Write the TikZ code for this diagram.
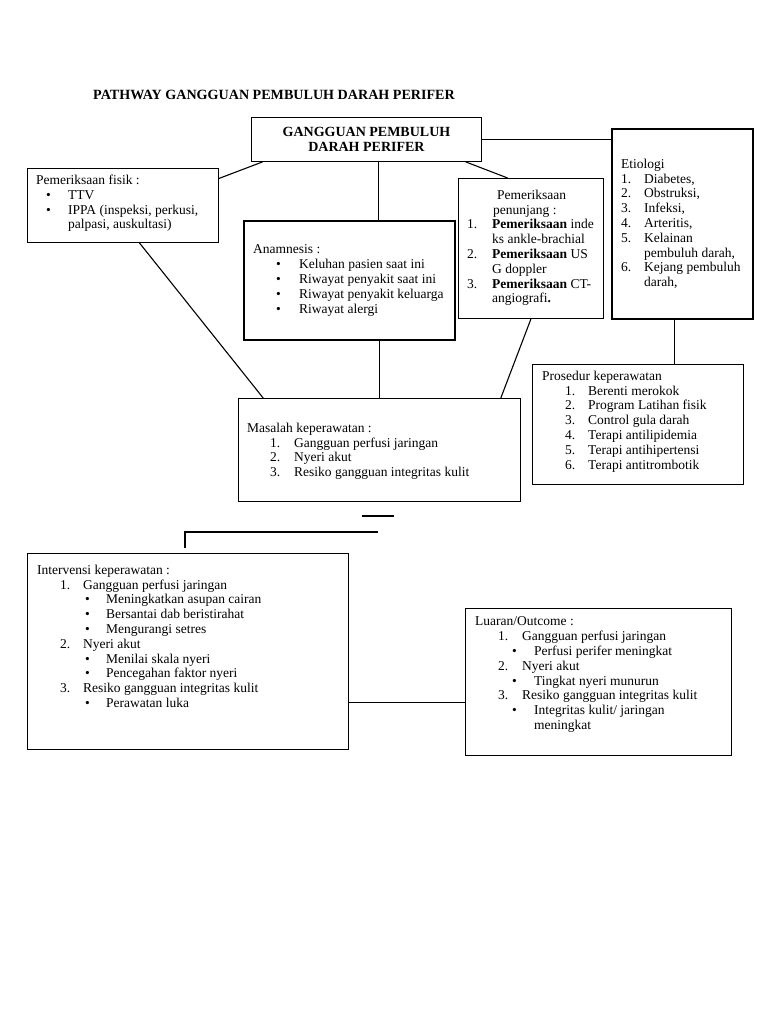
\documentclass[tikz,border=0pt]{standalone}
\usepackage{fontspec}
\setmainfont{Liberation Serif}
\usetikzlibrary{positioning, calc}
\newcommand\lbl[2]{\makebox[#1][l]{#2}}

\begin{document}
\begin{tikzpicture}[x=1pt, y=-1pt,
  box/.style={draw, line width=0.9pt, anchor=north west, inner sep=0pt},
  thickbox/.style={box, line width=1.7pt},
  txt/.style={align=left, inner sep=0pt, font=\fontsize{13.5}{14.8}\selectfont},
  link/.style={line width=1.1pt},
  thicklink/.style={line width=1.8pt}]
\useasboundingbox[fill=white] (0,0) rectangle (768,1024);

\node[txt, anchor=base west, font=\fontsize{14.1}{15}\selectfont\bfseries] (title) at (93,100) {PATHWAY GANGGUAN PEMBULUH DARAH PERIFER};

% boxes
\node[box, minimum width=230pt, minimum height=44pt, align=center, font=\fontsize{14}{15}\selectfont\bfseries] (main) at (251,117) {GANGGUAN PEMBULUH\\DARAH PERIFER};
\node[box, minimum width=191pt, minimum height=74pt] (fisik) at (27,168) {};
\node[thickbox, minimum width=211pt, minimum height=119pt] (anam) at (243,220) {};
\node[box, minimum width=145pt, minimum height=140pt] (penunjang) at (458,178) {};
\node[thickbox, minimum width=141pt, minimum height=190pt] (etio) at (611,128) {};
\node[box, minimum width=211pt, minimum height=120pt] (prosedur) at (532,364) {};
\node[box, minimum width=282pt, minimum height=103pt] (masalah) at (238,398) {};
\node[box, minimum width=321pt, minimum height=196pt] (interv) at (27,553) {};
\node[box, line width=1.2pt, minimum width=266pt, minimum height=147pt] (luaran) at (465,608) {};

% texts
\node[txt, below right=6.8pt and 9pt of fisik.north west] (fisiktxt) {Pemeriksaan fisik :\\
\hspace*{10pt}\lbl{22pt}{\textbullet}TTV\\
\hspace*{10pt}\lbl{22pt}{\textbullet}IPPA (inspeksi, perkusi,\\
\hspace*{32pt}palpasi, auskultasi)};

\node[txt, below right=24.8pt and 10pt of anam.north west] (anamtxt) {Anamnesis :\\
\hspace*{23pt}\lbl{23pt}{\textbullet}Keluhan pasien saat ini\\
\hspace*{23pt}\lbl{23pt}{\textbullet}Riwayat penyakit saat ini\\
\hspace*{23pt}\lbl{23pt}{\textbullet}Riwayat penyakit keluarga\\
\hspace*{23pt}\lbl{23pt}{\textbullet}Riwayat alergi};

\node[txt, below right=11.8pt and 9pt of penunjang.north west] (penunjangtxt) {\hspace*{30pt}Pemeriksaan\\
\hspace*{26pt}penunjang :\\
\lbl{25pt}{1.}\textbf{Pemeriksaan} inde\\
\hspace*{25pt}ks ankle-brachial\\
\lbl{25pt}{2.}\textbf{Pemeriksaan} US\\
\hspace*{25pt}G doppler\\
\lbl{25pt}{3.}\textbf{Pemeriksaan} CT-\\
\hspace*{25pt}angiografi\textbf{.}};

\node[txt, below right=30.8pt and 10pt of etio.north west] (etiotxt) {Etiologi\\
\lbl{23pt}{1.}Diabetes,\\
\lbl{23pt}{2.}Obstruksi,\\
\lbl{23pt}{3.}Infeksi,\\
\lbl{23pt}{4.}Arteritis,\\
\lbl{23pt}{5.}Kelainan\\
\hspace*{23pt}pembuluh darah,\\
\lbl{23pt}{6.}Kejang pembuluh\\
\hspace*{23pt}darah,};

\node[txt, below right=6.8pt and 10pt of prosedur.north west] (prosedurtxt) {Prosedur keperawatan\\
\hspace*{23pt}\lbl{23pt}{1.}Berenti merokok\\
\hspace*{23pt}\lbl{23pt}{2.}Program Latihan fisik\\
\hspace*{23pt}\lbl{23pt}{3.}Control gula darah\\
\hspace*{23pt}\lbl{23pt}{4.}Terapi antilipidemia\\
\hspace*{23pt}\lbl{23pt}{5.}Terapi antihipertensi\\
\hspace*{23pt}\lbl{23pt}{6.}Terapi antitrombotik};

\node[txt, below right=24.8pt and 9pt of masalah.north west] (masalahtxt) {Masalah keperawatan :\\
\hspace*{23pt}\lbl{24pt}{1.}Gangguan perfusi jaringan\\
\hspace*{23pt}\lbl{24pt}{2.}Nyeri akut\\
\hspace*{23pt}\lbl{24pt}{3.}Resiko gangguan integritas kulit};

\node[txt, below right=11.8pt and 10pt of interv.north west] (intervtxt) {Intervensi keperawatan :\\
\hspace*{23pt}\lbl{23pt}{1.}Gangguan perfusi jaringan\\
\hspace*{48pt}\lbl{21pt}{\textbullet}Meningkatkan asupan cairan\\
\hspace*{48pt}\lbl{21pt}{\textbullet}Bersantai dab beristirahat\\
\hspace*{48pt}\lbl{21pt}{\textbullet}Mengurangi setres\\
\hspace*{23pt}\lbl{23pt}{2.}Nyeri akut\\
\hspace*{48pt}\lbl{21pt}{\textbullet}Menilai skala nyeri\\
\hspace*{48pt}\lbl{21pt}{\textbullet}Pencegahan faktor nyeri\\
\hspace*{23pt}\lbl{23pt}{3.}Resiko gangguan integritas kulit\\
\hspace*{48pt}\lbl{21pt}{\textbullet}Perawatan luka};

\node[txt, below right=8.8pt and 10pt of luaran.north west] (luarantxt) {Luaran/Outcome :\\
\hspace*{23pt}\lbl{24pt}{1.}Gangguan perfusi jaringan\\
\hspace*{37pt}\lbl{22pt}{\textbullet}Perfusi perifer meningkat\\
\hspace*{23pt}\lbl{24pt}{2.}Nyeri akut\\
\hspace*{37pt}\lbl{22pt}{\textbullet}Tingkat nyeri munurun\\
\hspace*{23pt}\lbl{24pt}{3.}Resiko gangguan integritas kulit\\
\hspace*{37pt}\lbl{22pt}{\textbullet}Integritas kulit/ jaringan\\
\hspace*{59pt}meningkat};

% connectors
\draw[link] (main.east) -- (main.east -| etio.west);
\draw[link] ($(main.south west)!0.05!(main.south east)$) -- ($(fisik.north east)!0.14!(fisik.south east)$);
\draw[link] ($(main.south west)!0.93!(main.south east)$) -- ($(penunjang.north west)!0.34!(penunjang.north east)$);
\coordinate (mid) at ($(main.south west)!0.552!(main.south east)$);
\draw[thicklink] (mid) -- (mid |- anam.north);
\draw[thicklink] (masalah.north |- anam.south) -- (masalah.north);
\draw[link] ($(fisik.south west)!0.586!(fisik.south east)$) -- ($(masalah.north west)!0.089!(masalah.north east)$);
\draw[link] (penunjang.south) -- ($(masalah.north west)!0.929!(masalah.north east)$);
\coordinate (etiofoot) at ($(etio.south west)!0.447!(etio.south east)$);
\draw[link] (etiofoot) -- (etiofoot |- prosedur.north);
\coordinate (markL) at (362,516);
\coordinate (markR) at (394,516);
\draw[link] (markL) -- (markR);
\coordinate (brkL) at (185,548);
\coordinate (brkC) at (185,532);
\coordinate (brkR) at (378,532);
\draw[link] (brkL) -- (brkC) -- (brkR);
\coordinate (intright) at ($(interv.north east)!0.76!(interv.south east)$);
\draw[link] (intright) -- (intright -| luaran.west);
\end{tikzpicture}
\end{document}
